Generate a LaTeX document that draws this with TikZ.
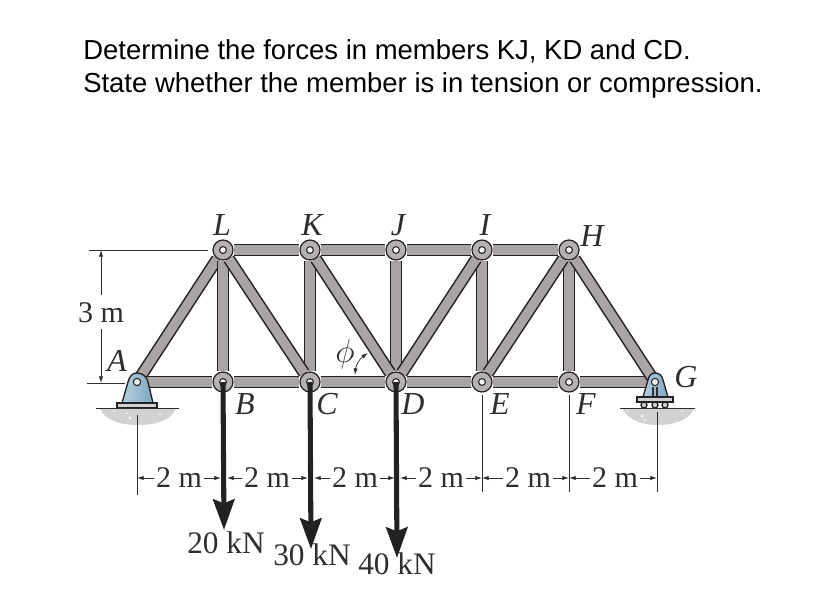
\documentclass[tikz,border=0pt]{standalone}
\usepackage{fontspec}
\setmainfont{Liberation Serif}
\newfontfamily\headfont{Liberation Sans}
\usetikzlibrary{arrows.meta}
\usetikzlibrary{backgrounds}
\definecolor{memberedge}{HTML}{232222}
\definecolor{membergray}{HTML}{A9A5A5}
\definecolor{jointgray}{HTML}{B5B1B0}
\definecolor{supportlight}{HTML}{B4CFDF}
\definecolor{supportdark}{HTML}{7FA8C0}
\definecolor{soilgray}{HTML}{CFD1D2}
\definecolor{inkgray}{HTML}{2E2E2E}
\tikzset{
    member/.style={draw=memberedge,line width=1.15pt,double=membergray,double distance=6.9pt},
    joint/.style={circle,draw=memberedge,fill=jointgray,line width=.9pt,minimum size=15pt,inner sep=0pt,
        path picture={\draw[fill=white,line width=.8pt] (path picture bounding box.center) circle (3.4);}},
    pinjoint/.style={circle,draw=memberedge,fill=white!85!gray,line width=.8pt,minimum size=5.5pt,inner sep=0pt},
    support/.style={draw=memberedge,line width=1pt,left color=supportlight,right color=supportdark},
    plate/.style={draw=memberedge,line width=1pt,fill=soilgray},
    soil/.style={fill=soilgray,draw=none},
    speck/.style={fill=white,draw=none},
    thinline/.style={draw=inkgray,line width=.55pt},
    dimarrow/.style={draw=inkgray,line width=.55pt,-{Latex[length=5pt,width=3.2pt]}},
    force/.style={draw=memberedge,line width=3.8pt,-{Stealth[length=23pt,width=16pt,inset=3pt]}},
    heading/.style={anchor=base west,inner sep=0pt,font=\headfont\fontsize{20.6}{24}\selectfont},
    jointlabel/.style={anchor=base,inner sep=0pt,text=inkgray,font=\itshape\fontsize{24}{28}\selectfont},
    dimlabel/.style={anchor=base,inner sep=1pt,text=inkgray,font=\fontsize{22.5}{26}\selectfont},
    forcelabel/.style={anchor=base,inner sep=0pt,text=inkgray,font=\fontsize{23.5}{28}\selectfont}
}
\begin{document}
\begin{tikzpicture}[x=.75pt,y=-.75pt]
    \useasboundingbox (0,0) rectangle (819,615);

    \node[heading] (line1) at (83,59) {Determine the forces in members KJ, KD and CD.};
    \node[heading] (line2) at (83,92) {State whether the member is in tension or compression.};

    \draw[support] (122,403) -- (128,382) .. controls (130,375) and (133,373) .. (137,373)
        .. controls (143,373) and (147,377) .. (148,382) -- (153,403) -- cycle;
    \draw[plate] (117,403) rectangle (157,408);
    \draw[support] (643,397) -- (648,380) .. controls (649,375) and (652,373) .. (655,373)
        .. controls (659,373) and (662,375) .. (663,380) -- (668,397) -- cycle;
    \draw[thinline,line width=1pt] (653,387) -- (653,396);
    \draw[thinline,line width=1pt] (657,387) -- (657,396);
    \draw[plate] (637,397) rectangle (673,402);
    \draw[plate] (644,405) circle (3);
    \draw[plate] (655,405) circle (3);
    \draw[plate] (665,405) circle (3);

    \node[pinjoint] (A) at (137,382) {};
    \node[pinjoint] (G) at (655,382) {};
    \node[joint] (L) at (223,250) {};
    \node[joint] (K) at (310,250) {};
    \node[joint] (J) at (396,250) {};
    \node[joint] (I) at (482,250) {};
    \node[joint] (H) at (569,250) {};
    \node[joint] (B) at (223,382) {};
    \node[joint] (C) at (310,382) {};
    \node[joint] (D) at (396,382) {};
    \node[joint] (E) at (482,382) {};
    \node[joint] (F) at (569,382) {};

    \begin{scope}[on background layer]
        \fill[soil] (100,408) .. controls (104,420) and (120,425) .. (138,425)
            .. controls (156,425) and (172,420) .. (176,408) -- cycle;
        \fill[soil] (622,408) .. controls (628,420) and (642,425) .. (658,425)
            .. controls (674,425) and (690,420) .. (694,408) -- cycle;
        \fill[speck] (127,413) circle (1);
        \fill[speck] (130,418) circle (1.5);
        \fill[speck] (160,414) circle (1);
        \fill[speck] (114,411) circle (.8);
        \fill[speck] (642,416) circle (1.3);
        \fill[speck] (645,420) circle (1);
        \fill[speck] (682,411) circle (.8);
        \fill[speck] (628,411) circle (.8);
        \draw[member] (A) -- (L);
        \draw[member] (A) -- (B);
        \draw[member] (B) -- (C);
        \draw[member] (C) -- (D);
        \draw[member] (D) -- (E);
        \draw[member] (E) -- (F);
        \draw[member] (F) -- (G);
        \draw[member] (L) -- (K);
        \draw[member] (K) -- (J);
        \draw[member] (J) -- (I);
        \draw[member] (I) -- (H);
        \draw[member] (L) -- (B);
        \draw[member] (K) -- (C);
        \draw[member] (J) -- (D);
        \draw[member] (I) -- (E);
        \draw[member] (H) -- (F);
        \draw[member] (L) -- (C);
        \draw[member] (K) -- (D);
        \draw[member] (D) -- (I);
        \draw[member] (E) -- (H);
        \draw[member] (H) -- (G);
    \end{scope}

    \draw[thinline] (96,408) -- (179,408);
    \draw[thinline] (620,408) -- (695,408);

    \coordinate (f20) at (224,530);
    \coordinate (f30) at (311,549);
    \coordinate (f40) at (397,558);
    \draw[force] (B.center) -- (f20);
    \draw[force] (C.center) -- (f30);
    \draw[force] (D.center) -- (f40);
    \node[forcelabel] (load20) at (226,553) {20 kN};
    \node[forcelabel] (load30) at (312,565) {30 kN};
    \node[forcelabel] (load40) at (397,574) {40 kN};

    \node[jointlabel] at (222,235) {L};
    \node[jointlabel] at (312,235) {K};
    \node[jointlabel] at (398,235) {J};
    \node[jointlabel] at (485,235) {I};
    \node[jointlabel] at (592,246) {H};
    \node[jointlabel] at (686,387) {G};
    \node[jointlabel] at (117,371) {A};
    \node[jointlabel] at (245,414) {B};
    \node[jointlabel] at (327,414) {C};
    \node[jointlabel] at (413,414) {D};
    \node[jointlabel] at (500,414) {E};
    \node[jointlabel] at (586,414) {F};
    \node[jointlabel] at (345,362) {$\phi$};

    \coordinate (phiA) at (355,375);
    \coordinate (phiB) at (368,353);
    \draw[dimarrow,{Latex[length=5pt,width=3.2pt]}-{Latex[length=5pt,width=3.2pt]}] (phiA) to[bend left=25] (phiB);

    \coordinate (topA) at (89,250);
    \coordinate (topB) at (208,250);
    \coordinate (lowA) at (87,383);
    \coordinate (lowB) at (125,383);
    \draw[thinline] (topA) -- (topB);
    \draw[thinline] (lowA) -- (lowB);
    \node[dimlabel,inner sep=5pt] (height) at (101,322) {3 m};
    \coordinate (upT) at (101,250);
    \coordinate (upB) at (101,383);
    \draw[dimarrow] (height.north) -- (upT);
    \draw[dimarrow] (height.south) -- (upB);

    \coordinate (t0a) at (137,415);
    \coordinate (t0b) at (137,495);
    \coordinate (t4a) at (482,395);
    \coordinate (t4b) at (482,492);
    \coordinate (t5a) at (569,395);
    \coordinate (t5b) at (569,492);
    \coordinate (t6a) at (657,412);
    \coordinate (t6b) at (657,492);
    \draw[thinline] (t0a) -- (t0b);
    \draw[thinline] (t4a) -- (t4b);
    \draw[thinline] (t5a) -- (t5b);
    \draw[thinline] (t6a) -- (t6b);

    \coordinate (d0) at (137,478);
    \coordinate (d1l) at (221,478);
    \coordinate (d1r) at (227,478);
    \coordinate (d2l) at (308,478);
    \coordinate (d2r) at (314,478);
    \coordinate (d3l) at (395,478);
    \coordinate (d3r) at (400,478);
    \coordinate (d4) at (482,478);
    \coordinate (d5) at (569,478);
    \coordinate (d6) at (657,478);
    \node[dimlabel] (span1) at (179,487) {2 m};
    \node[dimlabel] (span2) at (267,487) {2 m};
    \node[dimlabel] (span3) at (355,487) {2 m};
    \node[dimlabel] (span4) at (441,487) {2 m};
    \node[dimlabel] (span5) at (528,487) {2 m};
    \node[dimlabel] (span6) at (615,487) {2 m};
    \draw[dimarrow] (span1.west |- d0) -- (d0);
    \draw[dimarrow] (span1.east |- d0) -- (d1l);
    \draw[dimarrow] (span2.west |- d0) -- (d1r);
    \draw[dimarrow] (span2.east |- d0) -- (d2l);
    \draw[dimarrow] (span3.west |- d0) -- (d2r);
    \draw[dimarrow] (span3.east |- d0) -- (d3l);
    \draw[dimarrow] (span4.west |- d0) -- (d3r);
    \draw[dimarrow] (span4.east |- d0) -- (d4);
    \draw[dimarrow] (span5.west |- d0) -- (d4);
    \draw[dimarrow] (span5.east |- d0) -- (d5);
    \draw[dimarrow] (span6.west |- d0) -- (d5);
    \draw[dimarrow] (span6.east |- d0) -- (d6);
\end{tikzpicture}
\end{document}
